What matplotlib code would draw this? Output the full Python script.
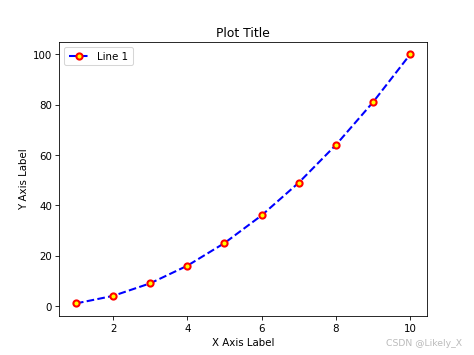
import matplotlib
matplotlib.use("Agg")
import matplotlib.pyplot as plt

x = [1, 2, 3, 4, 5, 6, 7, 8, 9, 10]
y = [1, 4, 9, 16, 25, 36, 49, 64, 81, 100]

fig = plt.figure(figsize=(6.4, 4.8), dpi=74.1)
ax = fig.add_subplot(111)
ax.plot(x, y, color='blue', linestyle='--', linewidth=2, marker='o',
        markerfacecolor='yellow', markeredgecolor='red', markeredgewidth=2,
        markersize=6, label='Line 1')
ax.set_title('Plot Title')
ax.set_xlabel('X Axis Label')
ax.set_ylabel('Y Axis Label')
ax.legend(loc='upper left')
fig.text(0.975, 0.022, 'CSDN @Likely_X', ha='right', va='bottom',
         color='#bbbbbb', fontsize=9)
fig.savefig('out.png', dpi=74.1)
